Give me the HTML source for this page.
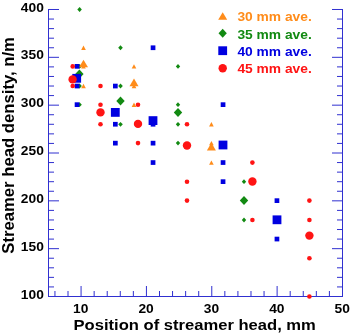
<!DOCTYPE html>
<html><head><meta charset="utf-8"><title>Streamer head density</title>
<style>html,body{margin:0;padding:0;background:#fff;overflow:hidden}</style></head>
<body>
<svg width="350" height="334" viewBox="0 0 350 334" style="display:block">
<rect width="350" height="334" fill="#fff"/>
<g stroke="#3030d0" stroke-width="1" fill="none" shape-rendering="crispEdges">
<path d="M48.5 9V296.5H342.5V9"/>
</g>
<g stroke="#3030d0" stroke-width="1" fill="none">
<path d="M48.5 296.5h10.5M342.5 296.5h-10.5"/>
<path d="M48.5 286.93h5.5M342.5 286.93h-5.5"/>
<path d="M48.5 277.37h5.5M342.5 277.37h-5.5"/>
<path d="M48.5 267.8h5.5M342.5 267.8h-5.5"/>
<path d="M48.5 258.23h5.5M342.5 258.23h-5.5"/>
<path d="M48.5 248.66h10.5M342.5 248.66h-10.5"/>
<path d="M48.5 239.1h5.5M342.5 239.1h-5.5"/>
<path d="M48.5 229.53h5.5M342.5 229.53h-5.5"/>
<path d="M48.5 219.96h5.5M342.5 219.96h-5.5"/>
<path d="M48.5 210.4h5.5M342.5 210.4h-5.5"/>
<path d="M48.5 200.83h10.5M342.5 200.83h-10.5"/>
<path d="M48.5 191.26h5.5M342.5 191.26h-5.5"/>
<path d="M48.5 181.7h5.5M342.5 181.7h-5.5"/>
<path d="M48.5 172.13h5.5M342.5 172.13h-5.5"/>
<path d="M48.5 162.56h5.5M342.5 162.56h-5.5"/>
<path d="M48.5 153.0h10.5M342.5 153.0h-10.5"/>
<path d="M48.5 143.43h5.5M342.5 143.43h-5.5"/>
<path d="M48.5 133.86h5.5M342.5 133.86h-5.5"/>
<path d="M48.5 124.29h5.5M342.5 124.29h-5.5"/>
<path d="M48.5 114.73h5.5M342.5 114.73h-5.5"/>
<path d="M48.5 105.16h10.5M342.5 105.16h-10.5"/>
<path d="M48.5 95.59h5.5M342.5 95.59h-5.5"/>
<path d="M48.5 86.03h5.5M342.5 86.03h-5.5"/>
<path d="M48.5 76.46h5.5M342.5 76.46h-5.5"/>
<path d="M48.5 66.89h5.5M342.5 66.89h-5.5"/>
<path d="M48.5 57.32h10.5M342.5 57.32h-10.5"/>
<path d="M48.5 47.76h5.5M342.5 47.76h-5.5"/>
<path d="M48.5 38.19h5.5M342.5 38.19h-5.5"/>
<path d="M48.5 28.62h5.5M342.5 28.62h-5.5"/>
<path d="M48.5 19.06h5.5M342.5 19.06h-5.5"/>
<path d="M48.5 9.49h10.5M342.5 9.49h-10.5"/>
<path d="M54.94 296.5v-5.5"/>
<path d="M68.0 296.5v-5.5"/>
<path d="M81.07 296.5v-10.5"/>
<path d="M94.15 296.5v-5.5"/>
<path d="M107.22 296.5v-5.5"/>
<path d="M120.28 296.5v-5.5"/>
<path d="M133.35 296.5v-5.5"/>
<path d="M146.43 296.5v-10.5"/>
<path d="M159.5 296.5v-5.5"/>
<path d="M172.56 296.5v-5.5"/>
<path d="M185.64 296.5v-5.5"/>
<path d="M198.71 296.5v-5.5"/>
<path d="M211.78 296.5v-10.5"/>
<path d="M224.84 296.5v-5.5"/>
<path d="M237.92 296.5v-5.5"/>
<path d="M250.99 296.5v-5.5"/>
<path d="M264.06 296.5v-5.5"/>
<path d="M277.12 296.5v-10.5"/>
<path d="M290.19 296.5v-5.5"/>
<path d="M303.26 296.5v-5.5"/>
<path d="M316.33 296.5v-5.5"/>
<path d="M329.4 296.5v-5.5"/>
</g>
<path d="M79.6 7.1L81.8 9.5L79.6 11.9L77.3 9.5Z" fill="#128a12"/>
<path d="M79.6 64.0L81.8 66.4L79.6 68.8L77.3 66.4Z" fill="#128a12"/>
<path d="M79.6 83.6L81.8 86.0L79.6 88.5L77.3 86.0Z" fill="#128a12"/>
<path d="M79.6 102.2L81.8 104.7L79.6 107.1L77.3 104.7Z" fill="#128a12"/>
<path d="M120.5 45.3L122.8 47.8L120.5 50.2L118.2 47.8Z" fill="#128a12"/>
<path d="M120.5 83.6L122.8 86.0L120.5 88.5L118.2 86.0Z" fill="#128a12"/>
<path d="M120.5 121.9L122.8 124.3L120.5 126.7L118.2 124.3Z" fill="#128a12"/>
<path d="M178.0 64.0L180.2 66.4L178.0 68.8L175.8 66.4Z" fill="#128a12"/>
<path d="M178.0 102.2L180.2 104.7L178.0 107.1L175.8 104.7Z" fill="#128a12"/>
<path d="M178.0 121.9L180.2 124.3L178.0 126.7L175.8 124.3Z" fill="#128a12"/>
<path d="M178.0 140.7L180.2 143.1L178.0 145.6L175.8 143.1Z" fill="#128a12"/>
<path d="M244.0 179.3L246.2 181.7L244.0 184.1L241.8 181.7Z" fill="#128a12"/>
<path d="M244.0 198.2L246.2 200.6L244.0 203.1L241.8 200.6Z" fill="#128a12"/>
<path d="M244.0 217.5L246.2 220.0L244.0 222.4L241.8 220.0Z" fill="#128a12"/>
<path d="M79.4 69.6L83.6 74.1L79.4 78.6L75.2 74.1Z" fill="#128a12"/>
<path d="M120.5 96.4L124.7 100.9L120.5 105.4L116.3 100.9Z" fill="#128a12"/>
<path d="M178.0 107.9L182.2 112.4L178.0 116.9L173.8 112.4Z" fill="#128a12"/>
<path d="M244.0 196.1L248.2 200.6L244.0 205.1L239.8 200.6Z" fill="#128a12"/>
<path d="M83.5 45.6L85.8 50.0H81.2Z" fill="#ff8c1a"/>
<path d="M83.5 64.2L85.8 68.6H81.2Z" fill="#ff8c1a"/>
<path d="M83.5 83.8L85.8 88.2H81.2Z" fill="#ff8c1a"/>
<path d="M134.0 64.2L136.3 68.6H131.7Z" fill="#ff8c1a"/>
<path d="M134.0 83.8L136.3 88.2H131.7Z" fill="#ff8c1a"/>
<path d="M134.0 102.5L136.3 106.9H131.7Z" fill="#ff8c1a"/>
<path d="M211.4 122.1L213.7 126.5H209.1Z" fill="#ff8c1a"/>
<path d="M211.4 140.9L213.7 145.3H209.1Z" fill="#ff8c1a"/>
<path d="M211.4 160.4L213.7 164.8H209.1Z" fill="#ff8c1a"/>
<path d="M83.5 59.7L88.0 67.3H79.0Z" fill="#ff8c1a"/>
<path d="M134.0 78.6L138.5 86.2H129.5Z" fill="#ff8c1a"/>
<path d="M211.4 142.8L215.9 150.4H206.9Z" fill="#ff8c1a"/>
<rect x="74.7" y="64.0" width="4.7" height="4.7" fill="#0000e0"/>
<rect x="74.7" y="83.7" width="4.7" height="4.7" fill="#0000e0"/>
<rect x="74.7" y="102.3" width="4.7" height="4.7" fill="#0000e0"/>
<rect x="113.0" y="83.7" width="4.7" height="4.7" fill="#0000e0"/>
<rect x="113.0" y="121.9" width="4.7" height="4.7" fill="#0000e0"/>
<rect x="113.0" y="140.8" width="4.7" height="4.7" fill="#0000e0"/>
<rect x="150.7" y="45.4" width="4.7" height="4.7" fill="#0000e0"/>
<rect x="150.7" y="121.9" width="4.7" height="4.7" fill="#0000e0"/>
<rect x="150.7" y="140.8" width="4.7" height="4.7" fill="#0000e0"/>
<rect x="150.7" y="160.2" width="4.7" height="4.7" fill="#0000e0"/>
<rect x="220.7" y="102.3" width="4.7" height="4.7" fill="#0000e0"/>
<rect x="220.7" y="160.2" width="4.7" height="4.7" fill="#0000e0"/>
<rect x="220.7" y="179.3" width="4.7" height="4.7" fill="#0000e0"/>
<rect x="274.6" y="198.3" width="4.7" height="4.7" fill="#0000e0"/>
<rect x="274.6" y="217.6" width="4.7" height="4.7" fill="#0000e0"/>
<rect x="274.6" y="236.7" width="4.7" height="4.7" fill="#0000e0"/>
<rect x="72.3" y="73.9" width="8.8" height="8.8" fill="#0000e0"/>
<rect x="110.9" y="108.0" width="8.8" height="8.8" fill="#0000e0"/>
<rect x="148.6" y="116.2" width="8.8" height="8.8" fill="#0000e0"/>
<rect x="218.6" y="140.6" width="8.8" height="8.8" fill="#0000e0"/>
<rect x="272.6" y="215.4" width="8.8" height="8.8" fill="#0000e0"/>
<circle cx="72.7" cy="66.4" r="2.3" fill="#ff1414"/>
<circle cx="72.7" cy="86.0" r="2.3" fill="#ff1414"/>
<circle cx="100.5" cy="86.0" r="2.3" fill="#ff1414"/>
<circle cx="100.5" cy="104.7" r="2.3" fill="#ff1414"/>
<circle cx="100.5" cy="124.3" r="2.3" fill="#ff1414"/>
<circle cx="138.0" cy="104.7" r="2.3" fill="#ff1414"/>
<circle cx="138.0" cy="124.3" r="2.3" fill="#ff1414"/>
<circle cx="138.0" cy="143.1" r="2.3" fill="#ff1414"/>
<circle cx="187.0" cy="124.3" r="2.3" fill="#ff1414"/>
<circle cx="187.0" cy="181.7" r="2.3" fill="#ff1414"/>
<circle cx="187.0" cy="200.6" r="2.3" fill="#ff1414"/>
<circle cx="252.4" cy="162.6" r="2.3" fill="#ff1414"/>
<circle cx="252.4" cy="181.7" r="2.3" fill="#ff1414"/>
<circle cx="252.4" cy="220.0" r="2.3" fill="#ff1414"/>
<circle cx="309.4" cy="200.6" r="2.3" fill="#ff1414"/>
<circle cx="309.4" cy="220.0" r="2.3" fill="#ff1414"/>
<circle cx="309.4" cy="258.2" r="2.3" fill="#ff1414"/>
<circle cx="309.4" cy="296.5" r="2.3" fill="#ff1414"/>
<circle cx="72.6" cy="79.4" r="4.2" fill="#ff1414"/>
<circle cx="100.5" cy="112.4" r="4.2" fill="#ff1414"/>
<circle cx="138.0" cy="123.9" r="4.2" fill="#ff1414"/>
<circle cx="187.0" cy="145.5" r="4.2" fill="#ff1414"/>
<circle cx="252.4" cy="181.5" r="4.2" fill="#ff1414"/>
<circle cx="309.4" cy="235.6" r="4.2" fill="#ff1414"/>
<path d="M222.7 12.2L227.2 19.8H218.2Z" fill="#ff8c1a"/>
<path d="M222.7 28.8L226.8 33.3L222.7 37.8L218.5 33.3Z" fill="#128a12"/>
<rect x="218.3" y="46.3" width="8.8" height="8.8" fill="#0000e0"/>
<circle cx="222.7" cy="68.2" r="4.2" fill="#ff1414"/>
<text transform="translate(237.4 21.4) scale(1 0.935)" font-family="Liberation Sans, sans-serif" font-weight="bold" font-size="13.8" fill="#ff8c1a" text-anchor="start">30 mm ave.</text>
<text transform="translate(237.4 38.5) scale(1 0.935)" font-family="Liberation Sans, sans-serif" font-weight="bold" font-size="13.8" fill="#128a12" text-anchor="start">35 mm ave.</text>
<text transform="translate(237.4 55.6) scale(1 0.935)" font-family="Liberation Sans, sans-serif" font-weight="bold" font-size="13.8" fill="#0000e0" text-anchor="start">40 mm ave.</text>
<text transform="translate(237.4 72.7) scale(1 0.935)" font-family="Liberation Sans, sans-serif" font-weight="bold" font-size="13.8" fill="#ff1414" text-anchor="start">45 mm ave.</text>
<text transform="translate(43.8 298.6) scale(1 0.935)" font-family="Liberation Sans, sans-serif" font-weight="bold" font-size="13.8" fill="#000" text-anchor="end">100</text>
<text transform="translate(43.8 250.765) scale(1 0.935)" font-family="Liberation Sans, sans-serif" font-weight="bold" font-size="13.8" fill="#000" text-anchor="end">150</text>
<text transform="translate(43.8 202.92999999999998) scale(1 0.935)" font-family="Liberation Sans, sans-serif" font-weight="bold" font-size="13.8" fill="#000" text-anchor="end">200</text>
<text transform="translate(43.8 155.095) scale(1 0.935)" font-family="Liberation Sans, sans-serif" font-weight="bold" font-size="13.8" fill="#000" text-anchor="end">250</text>
<text transform="translate(43.8 107.25999999999999) scale(1 0.935)" font-family="Liberation Sans, sans-serif" font-weight="bold" font-size="13.8" fill="#000" text-anchor="end">300</text>
<text transform="translate(43.8 59.42499999999999) scale(1 0.935)" font-family="Liberation Sans, sans-serif" font-weight="bold" font-size="13.8" fill="#000" text-anchor="end">350</text>
<text transform="translate(43.8 11.590000000000009) scale(1 0.935)" font-family="Liberation Sans, sans-serif" font-weight="bold" font-size="13.8" fill="#000" text-anchor="end">400</text>
<text transform="translate(80.77499999999999 313.2) scale(1 0.935)" font-family="Liberation Sans, sans-serif" font-weight="bold" font-size="13.8" fill="#000" text-anchor="middle">10</text>
<text transform="translate(146.125 313.2) scale(1 0.935)" font-family="Liberation Sans, sans-serif" font-weight="bold" font-size="13.8" fill="#000" text-anchor="middle">20</text>
<text transform="translate(211.475 313.2) scale(1 0.935)" font-family="Liberation Sans, sans-serif" font-weight="bold" font-size="13.8" fill="#000" text-anchor="middle">30</text>
<text transform="translate(276.825 313.2) scale(1 0.935)" font-family="Liberation Sans, sans-serif" font-weight="bold" font-size="13.8" fill="#000" text-anchor="middle">40</text>
<text transform="translate(342.17499999999995 313.2) scale(1 0.935)" font-family="Liberation Sans, sans-serif" font-weight="bold" font-size="13.8" fill="#000" text-anchor="middle">50</text>
<text transform="translate(194.7 329.9) scale(1 0.935)" font-family="Liberation Sans, sans-serif" font-weight="bold" font-size="16.6" fill="#000" text-anchor="middle">Position of streamer head, mm</text>
<text transform="translate(13.8 145.4) rotate(-90)" font-family="Liberation Sans, sans-serif" font-weight="bold" font-size="16.7" fill="#000" text-anchor="middle">Streamer head density, n/m</text>
</svg>
</body></html>
